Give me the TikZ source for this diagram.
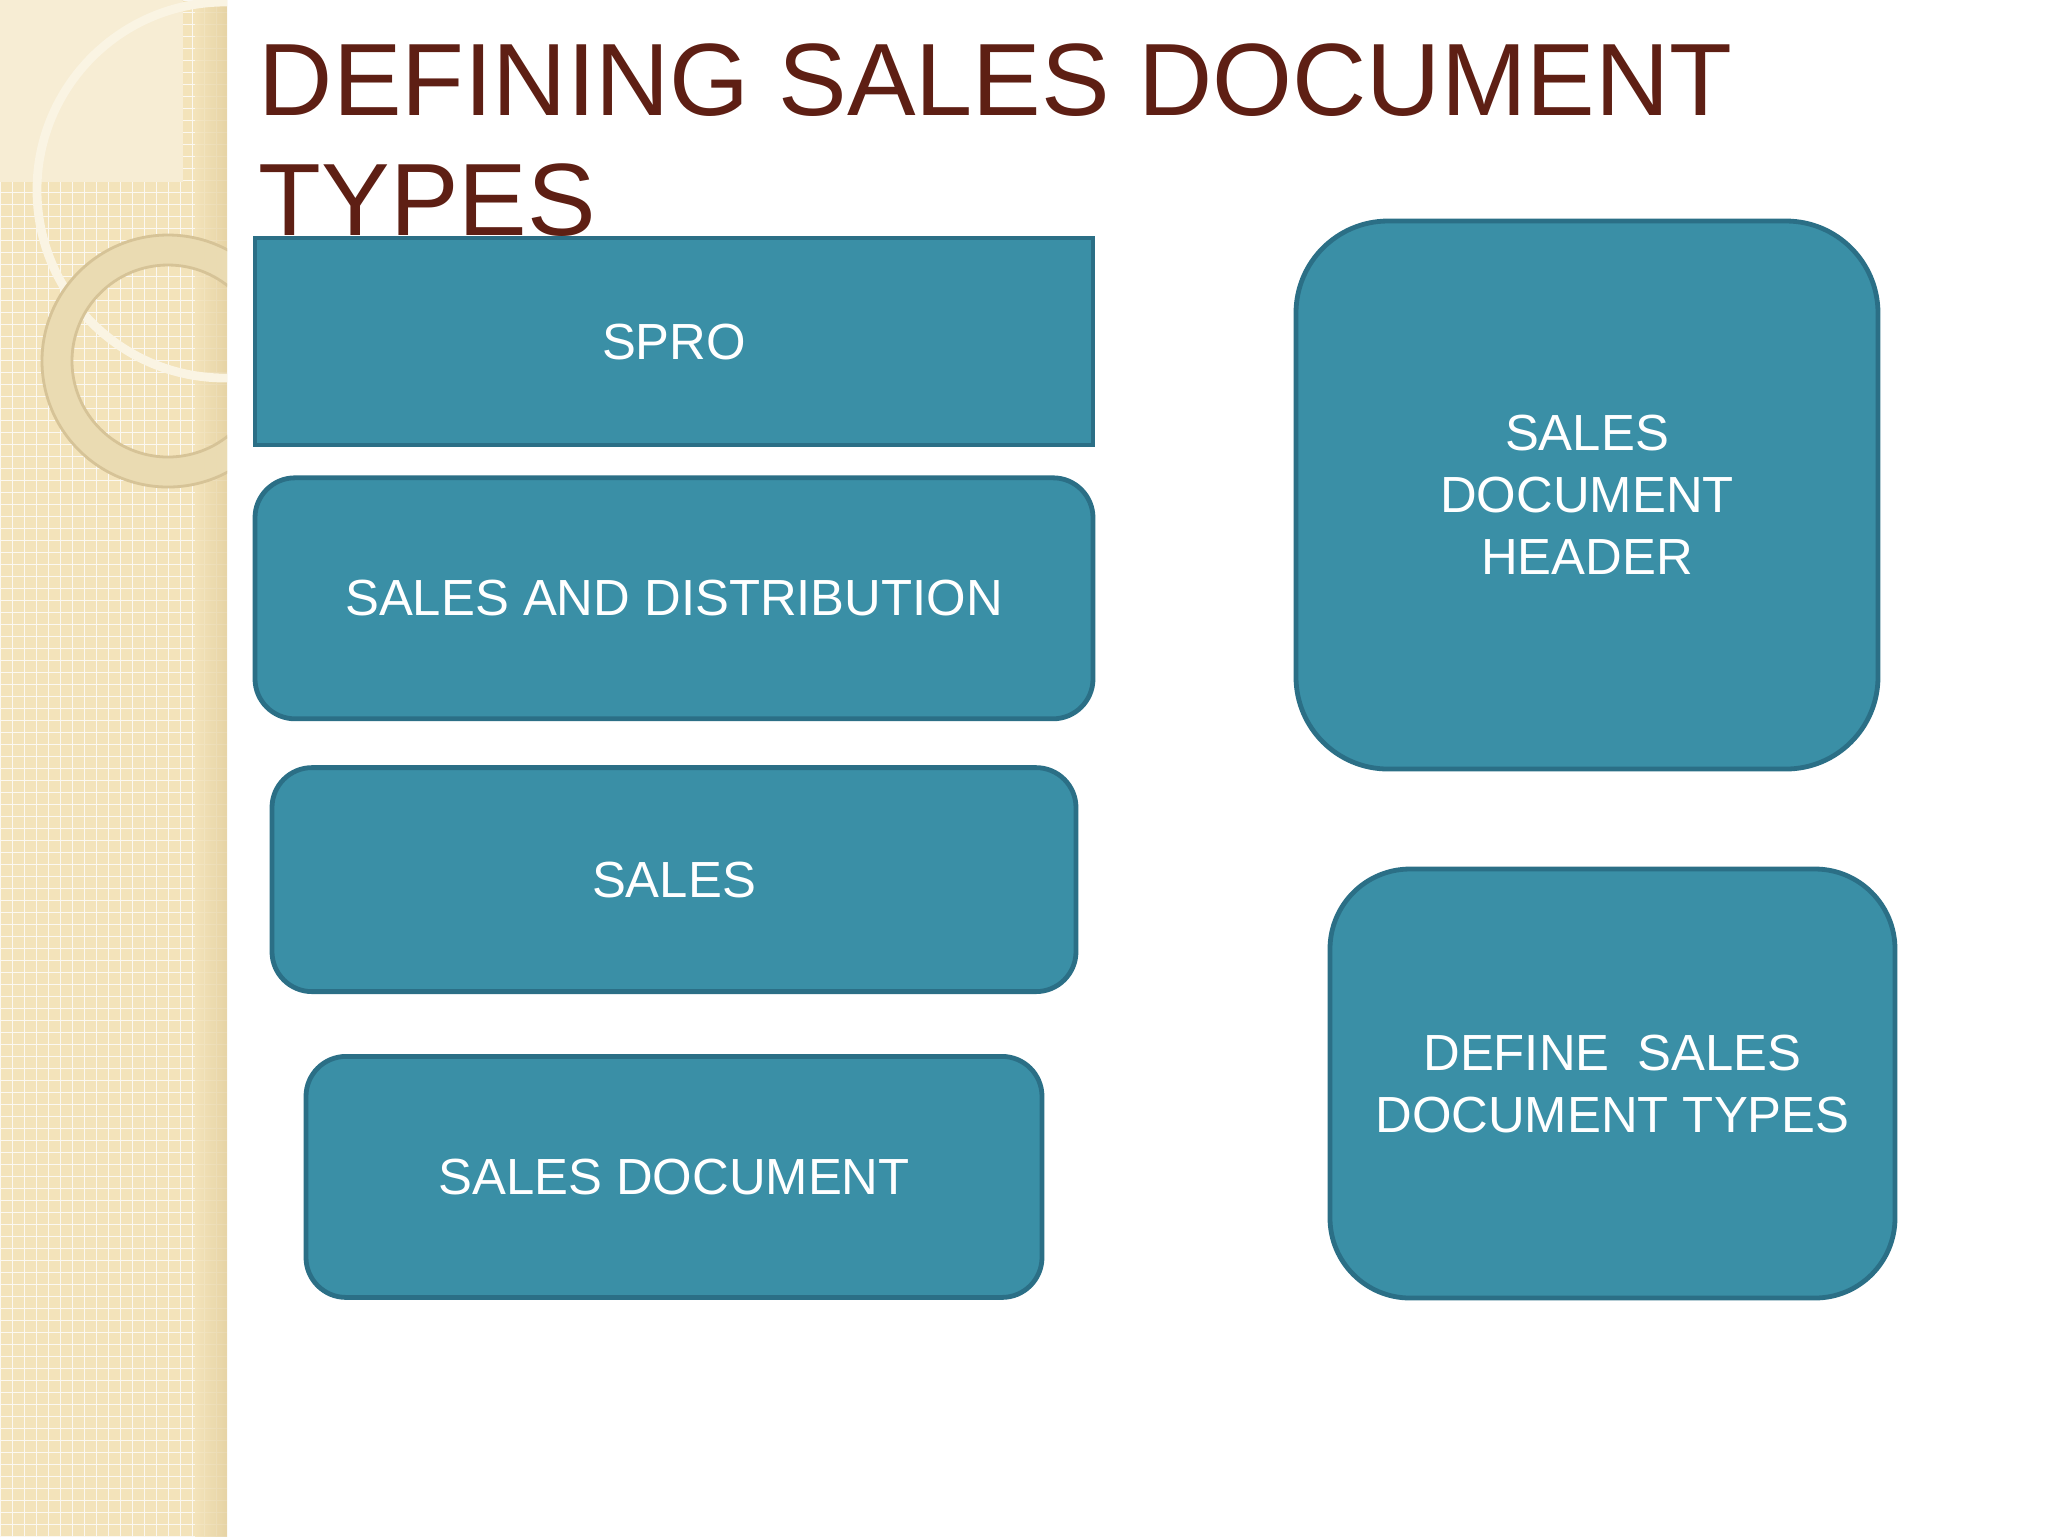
\documentclass[tikz,border=0pt]{standalone}
\usepackage{fontspec}
\setmainfont{Liberation Sans}
\usepackage{xcolor}
\usepackage{tikz}
\usetikzlibrary{positioning}

\definecolor{boxfill}{HTML}{3A8FA6}
\definecolor{boxline}{HTML}{2B6F86}
\definecolor{titlered}{HTML}{5E1F14}
\definecolor{stripbase}{HTML}{F3E3BA}
\definecolor{stripedge}{HTML}{E4D0A0}
\definecolor{striplight}{HTML}{F7EDD4}
\definecolor{ringfill}{HTML}{EADBB2}
\definecolor{ringline}{HTML}{D6C397}

\begin{document}
\begin{tikzpicture}[
		x=0.25pt,
		y=-0.25pt,
		font=\fontsize{12.7pt}{15.5pt}\selectfont,
		node distance=8pt
	]
		\tikzset{
			menubox/.style={
				draw=boxline,
				fill=boxfill,
				line width=1.2pt,
				text=white,
				align=center,
				inner sep=0,
			},
			roundbox/.style={
				menubox,
				rounded corners=10pt,
			},
		}

		\useasboundingbox (0,0) rectangle (2048,1536);
		\fill[white] (0,0) rectangle (2048,1536);

		% left strip
		\begin{scope}
			\clip (0,0) rectangle (227,1536);
			\fill[stripbase] (0,0) rectangle (227,1536);
			\draw[stripedge!15,line width=0.25pt,step=3pt] (0,0) grid (227,1536);
			\shade[left color=stripbase,right color=stripedge,opacity=0.8] (195,0) rectangle (227,1536);
			\fill[striplight] (0,0) rectangle (183,182);
			\draw[ringline!70,line width=0.6pt] (183,0) arc[start angle=0,end angle=-90,radius=183];
			\draw[white!60!stripbase,line width=2.2pt] (225,190) circle[radius=188];
			\fill[ringfill,even odd rule] (168,361) circle[radius=126] (168,361) circle[radius=96];
			\draw[ringline,line width=0.7pt] (168,361) circle[radius=126];
			\draw[ringline,line width=0.7pt] (168,361) circle[radius=96];
		\end{scope}

		% title
		\node[anchor=base west,align=left,text=titlered,inner sep=0,
			font=\fontsize{25.7pt}{30pt}\selectfont] (title) at (258,235)
			{DEFINING SALES DOCUMENT\\TYPES};

		% left column
		\node[menubox,minimum width=209.5pt,minimum height=51.75pt] (spro) at (674,341.5) {SPRO};
		\node[roundbox,minimum width=209.5pt,minimum height=60.25pt,below=7pt of spro] (sd) {SALES AND DISTRIBUTION};
		\node[roundbox,minimum width=201pt,minimum height=56pt,below=11pt of sd] (sales) {SALES};
		\node[roundbox,minimum width=184pt,minimum height=60.25pt,below=15pt of sales] (salesdoc) {SALES DOCUMENT};

		% right column
		\node[roundbox,rounded corners=23pt,minimum width=145.5pt,minimum height=137pt] (header) at (1587,495)
			{SALES\\DOCUMENT\\HEADER};
		\node[roundbox,rounded corners=20pt,minimum width=141.25pt,minimum height=107.25pt] (doctypes) at (1612.5,1083.5)
			{DEFINE\ \ SALES\\DOCUMENT TYPES};
	\end{tikzpicture}
\end{document}
